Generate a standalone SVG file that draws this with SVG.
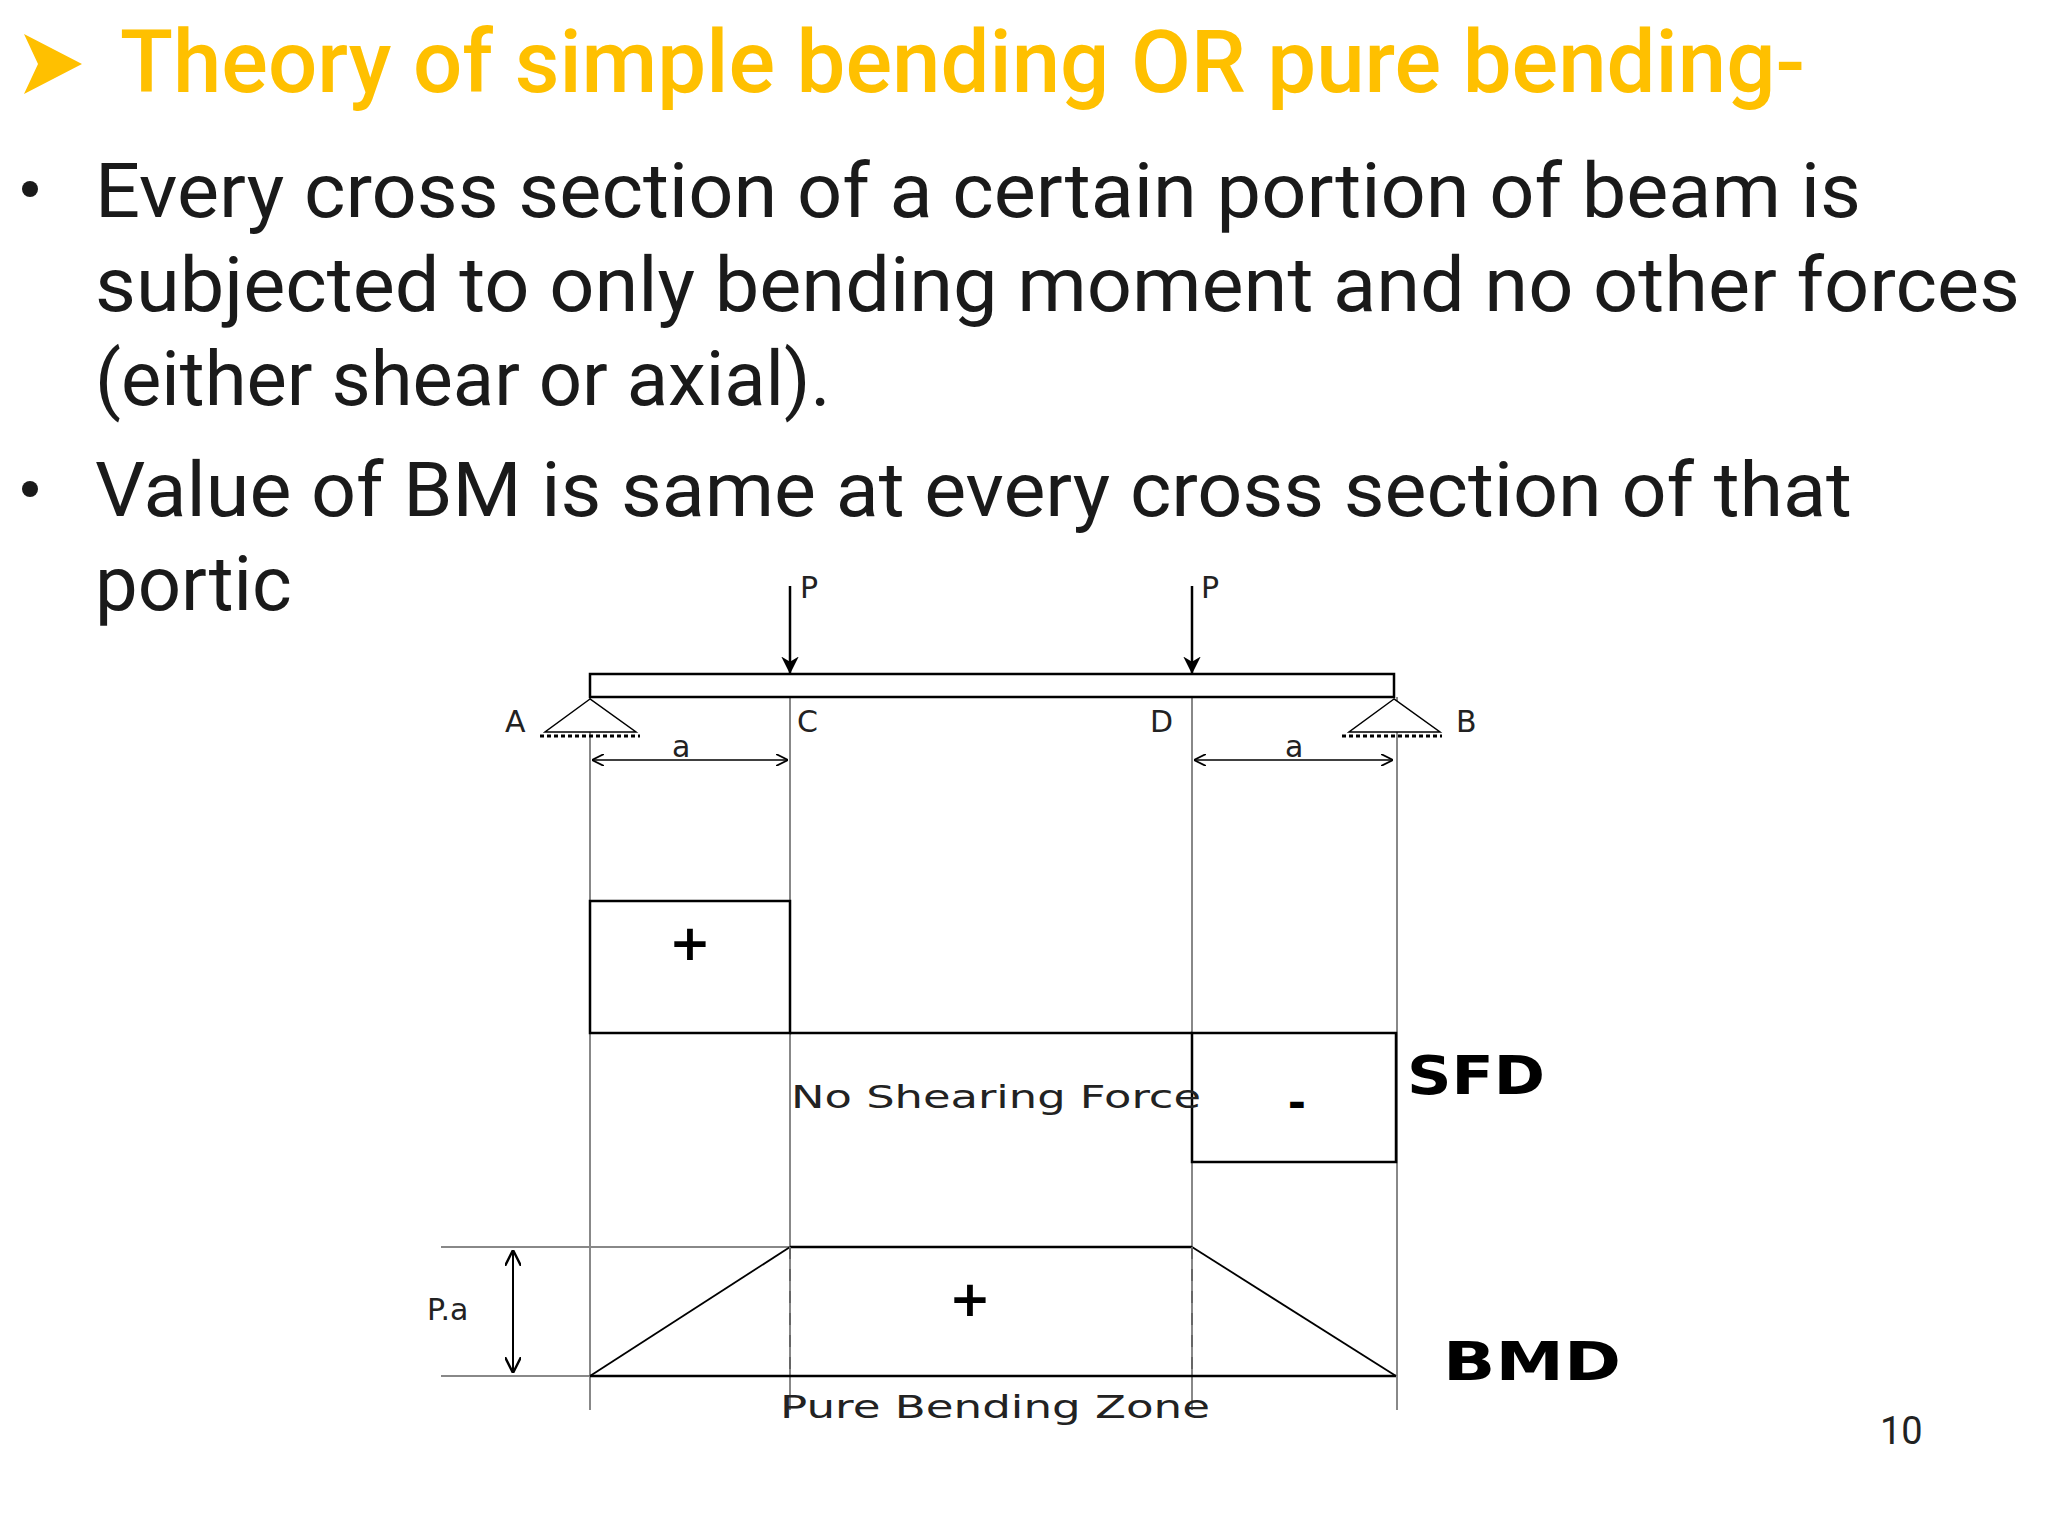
<svg xmlns="http://www.w3.org/2000/svg" width="2048" height="1535" viewBox="0 0 2048 1535">
<style>
.t{font-family:Roboto,"Liberation Sans",sans-serif;fill:#1a1a1a;font-size:76px}
.d{font-family:"DejaVu Sans","Liberation Sans",sans-serif;fill:#222}
.ln{stroke:#000;stroke-width:2.5;fill:none}
.gl{stroke:#888;stroke-width:2;fill:none}
</style>
<defs>
<marker id="ah" viewBox="0 0 10 10" refX="10" refY="5" markerWidth="8" markerHeight="8" orient="auto-start-reverse"><path d="M0,0 L10,5 L0,10" fill="none" stroke="#000" stroke-width="1.5"/></marker>
<marker id="fh" viewBox="0 0 10 10" refX="10" refY="5" markerWidth="7" markerHeight="7" orient="auto"><path d="M0,0 L10,5 L0,10 L3,5z" fill="#000"/></marker>
</defs>
<rect width="2048" height="1535" fill="#fff"/>
<g id="title">
<path d="M24,34 L82,64 L24,94 L38,64z" fill="#FFC000"/>
<text x="120" y="92" font-family="Roboto,'Liberation Sans',sans-serif" font-weight="500" font-size="88" fill="#FFC000" textLength="1685" lengthAdjust="spacingAndGlyphs">Theory of simple bending OR pure bending-</text>
</g>
<g id="bullets">
<circle cx="30" cy="189" r="8" fill="#1a1a1a"/>
<circle cx="30" cy="489" r="8" fill="#1a1a1a"/>
<text class="t" x="95" y="217" textLength="1766" lengthAdjust="spacingAndGlyphs">Every cross section of a certain portion of beam is</text>
<text class="t" x="95" y="311" textLength="1925" lengthAdjust="spacingAndGlyphs">subjected to only bending moment and no other forces</text>
<text class="t" x="95" y="405">(either shear or axial).</text>
<text class="t" x="95" y="516" textLength="1757" lengthAdjust="spacingAndGlyphs">Value of BM is same at every cross section of that</text>
<text class="t" x="95" y="610">portic</text>
</g>
<g id="diagram-bg"><rect x="295" y="580" width="1300" height="860" fill="#fff"/></g>
<g id="connectors">
<line class="gl" x1="590" y1="697" x2="590" y2="1410"/>
<line class="gl" x1="790" y1="697" x2="790" y2="1410"/>
<line class="gl" x1="1192" y1="697" x2="1192" y2="1410"/>
<line class="gl" x1="1397" y1="697" x2="1397" y2="1410"/>
<line class="ln" x1="790" y1="586" x2="790" y2="674" marker-end="url(#fh)"/>
<line class="ln" x1="1192" y1="586" x2="1192" y2="674" marker-end="url(#fh)"/>
<line x1="592" y1="760" x2="788" y2="760" stroke="#000" stroke-width="1.5" marker-start="url(#ah)" marker-end="url(#ah)"/>
<line x1="1194" y1="760" x2="1393" y2="760" stroke="#000" stroke-width="1.5" marker-start="url(#ah)" marker-end="url(#ah)"/>
<line x1="513" y1="1250" x2="513" y2="1373" stroke="#000" stroke-width="2" marker-start="url(#ah)" marker-end="url(#ah)"/>
</g>
<g id="beam">
<rect x="590" y="674" width="804" height="23" class="ln" fill="#fff"/>
</g>
<g id="supportA">
<path d="M590,699 L545,732 L636,732z" fill="#fff" stroke="#000" stroke-width="1.5"/>
<line x1="540" y1="736" x2="640" y2="736" stroke="#000" stroke-width="3" stroke-dasharray="4,3"/>
<text class="d" x="505" y="732" font-size="30">A</text>
</g>
<g id="supportB">
<path d="M1394,699 L1349,732 L1440,732z" fill="#fff" stroke="#000" stroke-width="1.5"/>
<line x1="1342" y1="736" x2="1442" y2="736" stroke="#000" stroke-width="3" stroke-dasharray="4,3"/>
<text class="d" x="1456" y="732" font-size="30">B</text>
</g>
<g id="labels">
<text class="d" x="800" y="598" font-size="30">P</text>
<text class="d" x="1201" y="598" font-size="30">P</text>
<text class="d" x="797" y="732" font-size="30">C</text>
<text class="d" x="1150" y="732" font-size="30">D</text>
<text class="d" x="672" y="757" font-size="30">a</text>
<text class="d" x="1285" y="757" font-size="30">a</text>
</g>
<g id="sfd">
<rect x="590" y="901" width="200" height="132" class="ln"/>
<line class="ln" x1="790" y1="1033" x2="1192" y2="1033"/>
<rect x="1192" y="1033" width="204" height="129" class="ln"/>
<text x="690" y="960" font-family="'DejaVu Sans',sans-serif" font-weight="bold" font-size="50" text-anchor="middle">+</text>
<text x="1297" y="1118" font-family="'DejaVu Sans',sans-serif" font-weight="bold" font-size="44" text-anchor="middle">-</text>
<text class="d" x="791" y="1108" font-size="32" textLength="410" lengthAdjust="spacingAndGlyphs">No Shearing Force</text>
<text x="1407" y="1094" font-family="'DejaVu Sans',sans-serif" font-weight="bold" font-size="54" textLength="138" lengthAdjust="spacingAndGlyphs">SFD</text>
</g>
<g id="bmd">
<line class="gl" x1="441" y1="1247" x2="790" y2="1247"/>
<line class="ln" x1="790" y1="1247" x2="1192" y2="1247"/>
<line class="gl" x1="441" y1="1376" x2="590" y2="1376"/>
<line class="ln" x1="590" y1="1376" x2="1396" y2="1376"/>
<line stroke="#000" stroke-width="1.8" x1="590" y1="1376" x2="790" y2="1247"/>
<line stroke="#000" stroke-width="1.8" x1="1192" y1="1247" x2="1396" y2="1376"/>
<line x1="790" y1="1247" x2="790" y2="1376" stroke="#666" stroke-width="2" stroke-dasharray="12,10"/>
<line x1="1192" y1="1247" x2="1192" y2="1376" stroke="#666" stroke-width="2" stroke-dasharray="12,10"/>
<text x="970" y="1316" font-family="'DejaVu Sans',sans-serif" font-weight="bold" font-size="50" text-anchor="middle">+</text>
<text class="d" x="427" y="1320" font-size="30">P.a</text>
<text x="1443" y="1380" font-family="'DejaVu Sans',sans-serif" font-weight="bold" font-size="54" textLength="178" lengthAdjust="spacingAndGlyphs">BMD</text>
<text class="d" x="780" y="1418" font-size="32" textLength="430" lengthAdjust="spacingAndGlyphs">Pure Bending Zone</text>
</g>
<text x="1880" y="1444" font-family="Roboto,'Liberation Sans',sans-serif" font-size="38" fill="#222">10</text>
</svg>
